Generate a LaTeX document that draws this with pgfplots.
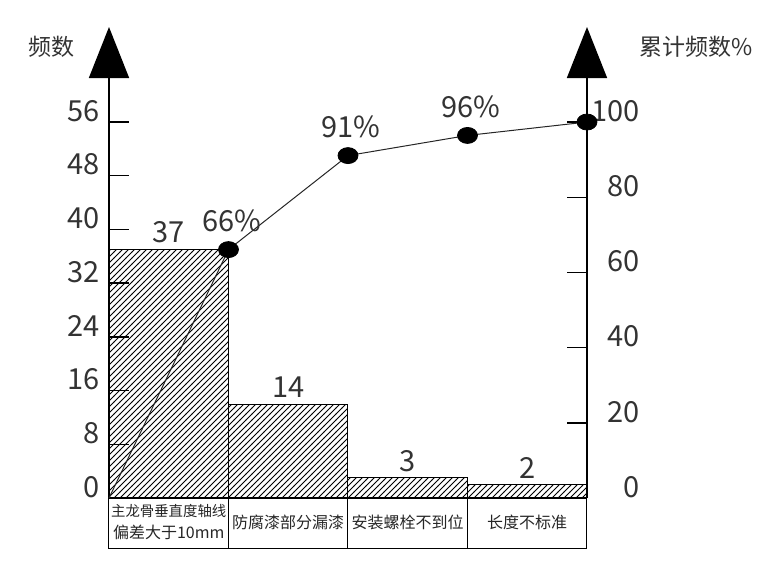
\documentclass[border=0pt]{standalone}
\usepackage{pgfplots}
\pgfplotsset{compat=1.18}
\usepackage{fontspec}
\setmainfont{Noto Sans CJK SC}
\usetikzlibrary{arrows.meta,patterns}

\pgfplotsset{
  pareto/.style={
    width=239pt, height=235.5pt, scale only axis,
    xmin=0, xmax=4, enlargelimits=false, clip=false,
    major tick length=10pt,
    ytick style={line width=0.7pt, black},
    /pgf/number format/assume math mode=true,
  },
  % has to come after "axis y line=..." which resets these
  bigarrow/.style={
    tick align=inside,
    y axis line style={line width=0.8pt, -{Triangle[width=20pt,length=25.5pt]}},
  },
}

\begin{document}
\begin{tikzpicture}
  % left axis: frequency
  \begin{axis}[
    pareto, name=A, axis on top,
    ymin=0, ymax=70.15,
    axis y line=left, axis x line=bottom,
    bigarrow,
    x axis line style={line width=0.6pt, -},
    ytick={0,8,...,56},
    yticklabel style={anchor=south east, inner sep=0pt, xshift=-4.5pt,
      font=\fontsize{14.5}{15}\selectfont, text=black!80},
    xtick={0.5,1.5,2.5,3.5},
    xtick style={draw=none},
    xticklabels={{\fontsize{7.2}{11}\selectfont 主龙骨垂直度轴线\\偏差大于10mm},
      防腐漆部分漏漆, 安装螺栓不到位, 长度不标准},
    xticklabel style={anchor=center, yshift=-12pt, inner sep=0pt, align=center,
      font=\fontsize{8}{11}\selectfont, text=black!85},
    ylabel={频数},
    ylabel style={rotate=-90, at={(rel axis cs:0,1)}, anchor=center,
      xshift=-28.5pt, yshift=-10pt, font=\fontsize{11.5}{12}\selectfont, text=black!80},
  ]
    \addplot[ybar interval, draw=black, line width=0.5pt, pattern=north east lines]
      coordinates {(0,37) (1,14) (2,3) (3,2) (4,2)};
    \addplot[draw=none, mark=none, nodes near coords, point meta=explicit symbolic,
      nodes near coords style={anchor=south, inner sep=0pt, yshift=3pt,
        font=\fontsize{14.5}{15}\selectfont, text=black!80}]
      coordinates {(0.5,37)[37] (1.5,14)[14] (2.5,3)[3] (3.5,2)[2]};
    % category table under the bars
    \draw[line width=0.5pt] (axis cs:0,0) -- ++(0,-25pt) -| (axis cs:4,0);
    \draw[line width=0.5pt] (axis cs:1,0) -- ++(0,-25pt);
    \draw[line width=0.5pt] (axis cs:2,0) -- ++(0,-25pt);
    \draw[line width=0.5pt] (axis cs:3,0) -- ++(0,-25pt);
  \end{axis}

  % right axis: cumulative percentage
  \begin{axis}[
    pareto,
    ymin=0, ymax=125.27,
    axis y line=right, axis x line=none,
    bigarrow,
    ytick={0,20,...,100},
    yticklabel style={anchor=south east, inner sep=0pt, xshift=26.5pt,
      font=\fontsize{14.5}{15}\selectfont, text=black!80},
    ylabel={累计频数\%},
    ylabel style={rotate=-90, at={(rel axis cs:1,1)}, anchor=west,
      xshift=22.5pt, yshift=-10pt, font=\fontsize{11.5}{12}\selectfont, text=black!80},
  ]
    \addplot[line width=0.5pt, black!85, mark=none]
      coordinates {(0,0) (1,66.07) (2,91.07) (3,96.43) (4,100)};
    \addplot[only marks, mark=*, mark size=4pt, mark options={xscale=1.25, fill=black, draw=black},
      nodes near coords, point meta=explicit symbolic,
      nodes near coords style={anchor=south, inner sep=0pt, yshift=8.5pt, xshift=1.5pt,
        font=\fontsize{14.5}{15}\selectfont, text=black!80}]
      coordinates {(1,66.07)[66\%] (2,91.07)[91\%] (3,96.43)[96\%]};
    \addplot[only marks, mark=*, mark size=4pt, mark options={xscale=1.25, fill=black, draw=black}]
      coordinates {(4,100)};
  \end{axis}

  \pgfresetboundingbox
  \useasboundingbox ([xshift=-54.5pt, yshift=-36pt]A.south west) rectangle ++(380pt,285pt);
\end{tikzpicture}
\end{document}
